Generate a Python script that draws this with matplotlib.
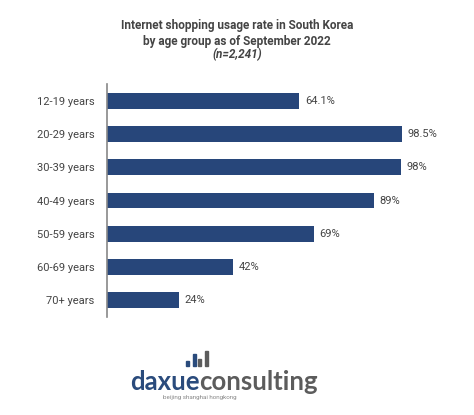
import matplotlib.pyplot as plt
from matplotlib.patches import Rectangle

# data
age_groups = ['12-19 years', '20-29 years', '30-39 years', '40-49 years',
              '50-59 years', '60-69 years', '70+ years']
usage_rate = [64.1, 98.5, 98, 89, 69, 42, 24]
value_labels = ['64.1%', '98.5%', '98%', '89%', '69%', '42%', '24%']

plt.rcParams['font.family'] = ['Roboto', 'DejaVu Sans']

W, H = 474, 415
fig = plt.figure(figsize=(W / 100, H / 100), dpi=100)
fig.patch.set_facecolor('white')

# axes: x=0 at px 107, ~3 px per %, y from 84 to 317 px
left = 107 / W
right = 440 / W
ax = fig.add_axes([left, 1 - 317 / H, right - left, (317 - 84) / H])
xmax = (440 - 107) / 2.995

bar_color = '#27467a'
ypos = range(len(age_groups))
ax.barh(ypos, usage_rate, height=0.48, color=bar_color)
for y, v, lab in zip(ypos, usage_rate, value_labels):
    ax.text(v + 2.0, y, lab, va='center', ha='left', fontsize=8, color='#444444')

ax.set_xlim(0, xmax)
ax.set_ylim(len(age_groups) - 0.5, -0.5)
ax.set_yticks(list(ypos))
ax.set_yticklabels(age_groups, fontsize=8, color='#444444')
ax.tick_params(axis='y', length=0, pad=9)
ax.set_xticks([])
for s in ['top', 'right', 'bottom']:
    ax.spines[s].set_visible(False)
ax.spines['left'].set_color('#888888')
ax.spines['left'].set_linewidth(1.2)

# title
title_kw = dict(ha='center', va='center', fontsize=8.5, fontweight='bold', color='#444444')
fig.text(0.5, 1 - 26 / H, 'Internet shopping usage rate in South Korea', **title_kw)
fig.text(0.5, 1 - 41 / H, 'by age group as of September 2022', **title_kw)
fig.text(0.5, 1 - 55 / H, '(n=2,241)', style='italic', **title_kw)

# logo
navy = '#2a4b7c'
grey = '#5c5c5c'
t1 = fig.text(130 / W, 1 - 390 / H, 'daxue', ha='left', va='baseline',
              fontsize=18.5, color=navy, family='Lato', fontweight='bold')
fig.canvas.draw()
bb = t1.get_window_extent()
fig.text(bb.x1 / W, 1 - 390 / H, 'consulting', ha='left', va='baseline',
         fontsize=18.5, color=grey, family='Lato', fontweight='bold')
fig.text(163 / W, 1 - 397 / H, 'beijing shanghai hongkong', ha='left', va='center',
         fontsize=4.5, color='#888888')
icon = [(186, 361, navy), (193, 354, navy), (198, 359, grey), (205, 351, grey)]
for x0, top, c in icon:
    fig.patches.append(Rectangle((x0 / W, 1 - 366 / H), 3 / W, (366 - top) / H,
                                 transform=fig.transFigure, color=c))

fig.savefig('out.png', dpi=100)
